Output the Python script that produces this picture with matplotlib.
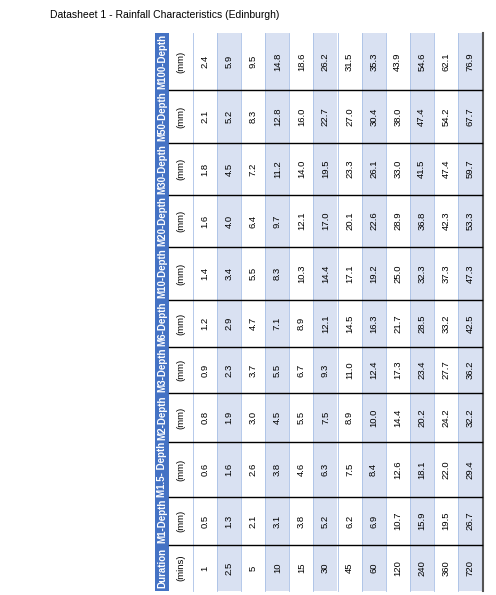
import matplotlib
matplotlib.use("Agg")
import matplotlib.pyplot as plt
from matplotlib.patches import Rectangle

headers = ["Duration", "M1-Depth", "M1.5- Depth", "M2-Depth", "M3-Depth", "M6-Depth",
           "M10-Depth", "M20-Depth", "M30-Depth", "M50-Depth", "M100-Depth"]
units = ["(mins)"] + ["(mm)"] * 10
duration = ["1", "2.5", "5", "10", "15", "30", "45", "60", "120", "240", "360", "720"]
m1 = [0.5, 1.3, 2.1, 3.1, 3.8, 5.2, 6.2, 6.9, 10.7, 15.9, 19.5, 26.7]
m15 = [0.6, 1.6, 2.6, 3.8, 4.6, 6.3, 7.5, 8.4, 12.6, 18.1, 22.0, 29.4]
m2 = [0.8, 1.9, 3.0, 4.5, 5.5, 7.5, 8.9, 10.0, 14.4, 20.2, 24.2, 32.2]
m3 = [0.9, 2.3, 3.7, 5.5, 6.7, 9.3, 11.0, 12.4, 17.3, 23.4, 27.7, 36.2]
m6 = [1.2, 2.9, 4.7, 7.1, 8.9, 12.1, 14.5, 16.3, 21.7, 28.5, 33.2, 42.5]
m10 = [1.4, 3.4, 5.5, 8.3, 10.3, 14.4, 17.1, 19.2, 25.0, 32.3, 37.3, 47.3]
m20 = [1.6, 4.0, 6.4, 9.7, 12.1, 17.0, 20.1, 22.6, 28.9, 36.8, 42.3, 53.3]
m30 = [1.8, 4.5, 7.2, 11.2, 14.0, 19.5, 23.3, 26.1, 33.0, 41.5, 47.4, 59.7]
m50 = [2.1, 5.2, 8.3, 12.8, 16.0, 22.7, 27.0, 30.4, 38.0, 47.4, 54.2, 67.7]
m100 = [2.4, 5.9, 9.5, 14.8, 18.6, 26.2, 31.5, 35.3, 43.9, 54.6, 62.1, 76.9]
series = [m1, m15, m2, m3, m6, m10, m20, m30, m50, m100]

plt.rcParams['font.family'] = ['Liberation Sans', 'DejaVu Sans']
fig = plt.figure(figsize=(4.96, 5.95), dpi=100)
ax = fig.add_axes([0, 0, 1, 1])
ax.set_xlim(0, 496); ax.set_ylim(595, 0); ax.axis("off")

ax.text(50, 15, "Datasheet 1 - Rainfall Characteristics (Edinburgh)", fontsize=7.5,
        ha="left", va="center", color="black")

ybounds = [591, 545, 497, 442, 393, 347, 300, 247, 195, 143, 90, 33]
x_head0, x_head1 = 155, 169
x_unit1 = 193
x_end = 482
row_h = (x_end - x_unit1) / 12
blue = "#4472C4"; shade = "#D9E1F2"; grid = "#A9C0E6"

ax.add_patch(Rectangle((x_head0, 33), x_head1 - x_head0, 591 - 33, color=blue, lw=0))
for r in range(12):
    if r % 2 == 1:
        ax.add_patch(Rectangle((x_unit1 + r * row_h, 33), row_h, 591 - 33, color=shade, lw=0))
for r in range(13):
    x = x_unit1 + r * row_h
    ax.plot([x, x], [33, 591], color=grid, lw=0.6)
ax.plot([x_end + 1] * 2, [33, 591], color="#555555", lw=1.5)

for c in range(11):
    y0, y1 = ybounds[c], ybounds[c + 1]
    yc = (y0 + y1) / 2
    if c > 0:
        ax.plot([x_head1, x_end], [y0, y0], color="black", lw=1.0)
    ax.text((x_head0 + x_head1) / 2, yc, headers[c], rotation=90, ha="center", va="center",
            fontsize=7, color="white", fontweight="bold")
    ax.text((x_head1 + x_unit1) / 2, yc, units[c], rotation=90, ha="center", va="center",
            fontsize=6.8, color="black")
    for r in range(12):
        val = duration[r] if c == 0 else f"{series[c - 1][r]:.1f}"
        ax.text(x_unit1 + (r + 0.5) * row_h, yc, val, rotation=90, ha="center", va="center",
                fontsize=6.8, color="black")

fig.savefig("out.png", dpi=100)
